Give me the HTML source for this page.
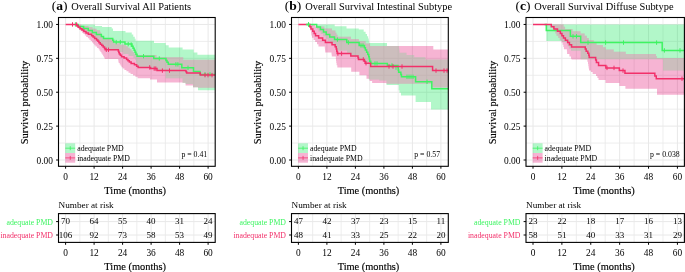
<!DOCTYPE html>
<html><head><meta charset="utf-8"><title>Overall Survival</title>
<style>html,body{margin:0;padding:0;background:#fff;} svg{display:block;} text{font-family:'Liberation Serif', 'Times New Roman', serif;}</style>
</head><body>
<svg width="685" height="272" viewBox="0 0 685 272">
<rect width="685" height="272" fill="#fff"/>
<clipPath id="clipa"><rect x="58.5" y="17.5" width="156.70" height="148.80"/></clipPath>
<line x1="65.60" y1="17.5" x2="65.60" y2="166.3" stroke="#e8e8e8" stroke-width="1"/><line x1="79.85" y1="17.5" x2="79.85" y2="166.3" stroke="#e8e8e8" stroke-width="0.8"/><line x1="94.10" y1="17.5" x2="94.10" y2="166.3" stroke="#e8e8e8" stroke-width="1"/><line x1="108.35" y1="17.5" x2="108.35" y2="166.3" stroke="#e8e8e8" stroke-width="0.8"/><line x1="122.60" y1="17.5" x2="122.60" y2="166.3" stroke="#e8e8e8" stroke-width="1"/><line x1="136.85" y1="17.5" x2="136.85" y2="166.3" stroke="#e8e8e8" stroke-width="0.8"/><line x1="151.10" y1="17.5" x2="151.10" y2="166.3" stroke="#e8e8e8" stroke-width="1"/><line x1="165.35" y1="17.5" x2="165.35" y2="166.3" stroke="#e8e8e8" stroke-width="0.8"/><line x1="179.60" y1="17.5" x2="179.60" y2="166.3" stroke="#e8e8e8" stroke-width="1"/><line x1="193.85" y1="17.5" x2="193.85" y2="166.3" stroke="#e8e8e8" stroke-width="0.8"/><line x1="208.10" y1="17.5" x2="208.10" y2="166.3" stroke="#e8e8e8" stroke-width="1"/><line x1="58.5" y1="160.00" x2="215.2" y2="160.00" stroke="#e8e8e8" stroke-width="1"/><line x1="58.5" y1="143.06" x2="215.2" y2="143.06" stroke="#e8e8e8" stroke-width="0.8"/><line x1="58.5" y1="126.11" x2="215.2" y2="126.11" stroke="#e8e8e8" stroke-width="1"/><line x1="58.5" y1="109.17" x2="215.2" y2="109.17" stroke="#e8e8e8" stroke-width="0.8"/><line x1="58.5" y1="92.22" x2="215.2" y2="92.22" stroke="#e8e8e8" stroke-width="1"/><line x1="58.5" y1="75.28" x2="215.2" y2="75.28" stroke="#e8e8e8" stroke-width="0.8"/><line x1="58.5" y1="58.34" x2="215.2" y2="58.34" stroke="#e8e8e8" stroke-width="1"/><line x1="58.5" y1="41.39" x2="215.2" y2="41.39" stroke="#e8e8e8" stroke-width="0.8"/><line x1="58.5" y1="24.45" x2="215.2" y2="24.45" stroke="#e8e8e8" stroke-width="1"/>
<g clip-path="url(#clipa)">
<path d="M76.40,24.45 L95.10,24.45 L95.10,26.00 L101.60,26.00 L102.05,26.00 L102.05,26.90 L102.50,26.90 L111.70,26.90 L111.70,28.50 L113.05,28.50 L113.05,31.00 L114.40,31.00 L125.50,31.00 L125.50,32.60 L131.00,32.60 L131.76,32.60 L131.76,34.62 L133.27,34.62 L133.27,36.65 L134.78,36.65 L134.78,38.68 L135.62,38.68 L135.62,40.70 L135.80,40.70 L154.00,40.70 L154.00,43.00 L165.70,43.00 L165.70,45.20 L168.70,45.20 L168.70,47.40 L182.60,47.40 L182.60,49.60 L193.70,49.60 L193.70,52.60 L197.40,52.60 L197.40,54.80 L215.20,54.80 L215.20,90.20 L198.00,90.20 L198.00,87.20 L193.00,87.20 L193.00,84.00 L185.60,84.00 L185.60,82.80 L182.60,82.80 L182.60,78.20 L165.70,78.20 L165.70,70.90 L157.00,70.90 L157.00,68.90 L150.60,68.90 L150.60,67.90 L139.60,67.90 L138.84,67.90 L138.84,65.92 L137.31,65.92 L137.31,63.94 L136.51,63.94 L136.51,61.97 L135.97,61.97 L135.97,59.99 L135.43,59.99 L135.43,58.01 L133.52,58.01 L133.52,56.03 L128.57,56.03 L128.57,54.06 L123.28,54.06 L123.28,52.08 L119.44,52.08 L119.44,50.10 L118.10,50.10 L105.90,50.10 L105.21,50.10 L105.21,48.27 L103.82,48.27 L103.82,46.44 L102.08,46.44 L102.08,44.60 L100.22,44.60 L100.22,42.77 L98.67,42.77 L98.67,40.94 L96.82,40.94 L96.82,39.11 L94.81,39.11 L94.81,37.27 L92.74,37.27 L92.74,35.44 L89.65,35.44 L89.65,33.61 L86.28,33.61 L86.28,31.78 L83.50,31.78 L83.50,29.95 L81.20,29.95 L81.20,28.11 L78.64,28.11 L78.64,26.28 L76.94,26.28 L76.94,24.45 L76.40,24.45 Z" fill="#00e64b" fill-opacity="0.3"/>
<clipPath id="gba"><path d="M76.40,24.45 L95.10,24.45 L95.10,26.00 L101.60,26.00 L102.05,26.00 L102.05,26.90 L102.50,26.90 L111.70,26.90 L111.70,28.50 L113.05,28.50 L113.05,31.00 L114.40,31.00 L125.50,31.00 L125.50,32.60 L131.00,32.60 L131.76,32.60 L131.76,34.62 L133.27,34.62 L133.27,36.65 L134.78,36.65 L134.78,38.68 L135.62,38.68 L135.62,40.70 L135.80,40.70 L154.00,40.70 L154.00,43.00 L165.70,43.00 L165.70,45.20 L168.70,45.20 L168.70,47.40 L182.60,47.40 L182.60,49.60 L193.70,49.60 L193.70,52.60 L197.40,52.60 L197.40,54.80 L215.20,54.80 L215.20,90.20 L198.00,90.20 L198.00,87.20 L193.00,87.20 L193.00,84.00 L185.60,84.00 L185.60,82.80 L182.60,82.80 L182.60,78.20 L165.70,78.20 L165.70,70.90 L157.00,70.90 L157.00,68.90 L150.60,68.90 L150.60,67.90 L139.60,67.90 L138.84,67.90 L138.84,65.92 L137.31,65.92 L137.31,63.94 L136.51,63.94 L136.51,61.97 L135.97,61.97 L135.97,59.99 L135.43,59.99 L135.43,58.01 L133.52,58.01 L133.52,56.03 L128.57,56.03 L128.57,54.06 L123.28,54.06 L123.28,52.08 L119.44,52.08 L119.44,50.10 L118.10,50.10 L105.90,50.10 L105.21,50.10 L105.21,48.27 L103.82,48.27 L103.82,46.44 L102.08,46.44 L102.08,44.60 L100.22,44.60 L100.22,42.77 L98.67,42.77 L98.67,40.94 L96.82,40.94 L96.82,39.11 L94.81,39.11 L94.81,37.27 L92.74,37.27 L92.74,35.44 L89.65,35.44 L89.65,33.61 L86.28,33.61 L86.28,31.78 L83.50,31.78 L83.50,29.95 L81.20,29.95 L81.20,28.11 L78.64,28.11 L78.64,26.28 L76.94,26.28 L76.94,24.45 L76.40,24.45 Z"/></clipPath>
<path d="M76.40,24.45 L81.21,24.45 L81.21,25.89 L88.46,25.89 L88.46,27.34 L92.57,27.34 L92.57,28.78 L96.49,28.78 L96.49,30.23 L99.97,30.23 L99.97,31.67 L100.59,31.67 L100.59,33.12 L101.22,33.12 L101.22,34.56 L102.00,34.56 L102.00,36.01 L102.91,36.01 L102.91,37.45 L104.08,37.45 L104.08,38.90 L104.80,38.90 L112.20,38.90 L112.55,38.90 L112.55,40.35 L113.26,40.35 L113.26,41.81 L113.97,41.81 L113.97,43.26 L119.96,43.26 L119.96,44.72 L125.93,44.72 L125.93,46.17 L128.07,46.17 L128.07,47.63 L129.75,47.63 L129.75,49.08 L131.21,49.08 L131.21,50.54 L132.66,50.54 L132.66,51.99 L133.97,51.99 L133.97,53.45 L135.90,53.45 L135.90,54.90 L150.00,54.90 L156.50,54.90 L156.50,57.30 L183.20,57.30 L183.20,59.70 L215.20,59.70 L215.20,87.70 L198.00,87.70 L198.00,87.20 L193.00,87.20 L193.00,85.60 L185.60,85.60 L185.60,82.80 L182.60,82.80 L182.60,82.40 L157.00,82.40 L157.00,79.60 L150.00,79.60 L150.00,78.20 L139.30,78.20 L137.59,78.20 L137.59,76.83 L135.35,76.83 L135.35,75.46 L132.99,75.46 L132.99,74.09 L130.55,74.09 L130.55,72.71 L128.49,72.71 L128.49,71.34 L126.44,71.34 L126.44,69.97 L124.43,69.97 L124.43,68.60 L122.68,68.60 L122.68,67.23 L121.45,67.23 L121.45,65.86 L120.64,65.86 L120.64,64.49 L119.71,64.49 L119.71,63.11 L118.70,63.11 L118.70,61.74 L118.41,61.74 L118.41,60.37 L118.20,60.37 L118.20,59.00 L118.10,59.00 L107.00,59.00 L104.69,59.00 L104.69,57.62 L103.91,57.62 L103.91,56.24 L103.13,56.24 L103.13,54.85 L102.31,54.85 L102.31,53.47 L101.39,53.47 L101.39,52.09 L100.47,52.09 L100.47,50.71 L99.54,50.71 L99.54,49.33 L98.62,49.33 L98.62,47.94 L97.10,47.94 L97.10,46.56 L95.48,46.56 L95.48,45.18 L94.35,45.18 L94.35,43.80 L93.22,43.80 L93.22,42.42 L92.08,42.42 L92.08,41.03 L90.74,41.03 L90.74,39.65 L89.36,39.65 L89.36,38.27 L87.93,38.27 L87.93,36.89 L86.24,36.89 L86.24,35.51 L84.81,35.51 L84.81,34.12 L83.43,34.12 L83.43,32.74 L82.05,32.74 L82.05,31.36 L80.67,31.36 L80.67,29.98 L79.29,29.98 L79.29,28.60 L77.91,28.60 L77.91,27.21 L77.15,27.21 L77.15,25.83 L76.65,25.83 L76.65,24.45 L76.40,24.45 Z" fill="#e1056c" fill-opacity="0.3"/>
<path d="M76.40,24.45 L81.21,24.45 L81.21,25.89 L88.46,25.89 L88.46,27.34 L92.57,27.34 L92.57,28.78 L96.49,28.78 L96.49,30.23 L99.97,30.23 L99.97,31.67 L100.59,31.67 L100.59,33.12 L101.22,33.12 L101.22,34.56 L102.00,34.56 L102.00,36.01 L102.91,36.01 L102.91,37.45 L104.08,37.45 L104.08,38.90 L104.80,38.90 L112.20,38.90 L112.55,38.90 L112.55,40.35 L113.26,40.35 L113.26,41.81 L113.97,41.81 L113.97,43.26 L119.96,43.26 L119.96,44.72 L125.93,44.72 L125.93,46.17 L128.07,46.17 L128.07,47.63 L129.75,47.63 L129.75,49.08 L131.21,49.08 L131.21,50.54 L132.66,50.54 L132.66,51.99 L133.97,51.99 L133.97,53.45 L135.90,53.45 L135.90,54.90 L150.00,54.90 L156.50,54.90 L156.50,57.30 L183.20,57.30 L183.20,59.70 L215.20,59.70 L215.20,87.70 L198.00,87.70 L198.00,87.20 L193.00,87.20 L193.00,85.60 L185.60,85.60 L185.60,82.80 L182.60,82.80 L182.60,82.40 L157.00,82.40 L157.00,79.60 L150.00,79.60 L150.00,78.20 L139.30,78.20 L137.59,78.20 L137.59,76.83 L135.35,76.83 L135.35,75.46 L132.99,75.46 L132.99,74.09 L130.55,74.09 L130.55,72.71 L128.49,72.71 L128.49,71.34 L126.44,71.34 L126.44,69.97 L124.43,69.97 L124.43,68.60 L122.68,68.60 L122.68,67.23 L121.45,67.23 L121.45,65.86 L120.64,65.86 L120.64,64.49 L119.71,64.49 L119.71,63.11 L118.70,63.11 L118.70,61.74 L118.41,61.74 L118.41,60.37 L118.20,60.37 L118.20,59.00 L118.10,59.00 L107.00,59.00 L104.69,59.00 L104.69,57.62 L103.91,57.62 L103.91,56.24 L103.13,56.24 L103.13,54.85 L102.31,54.85 L102.31,53.47 L101.39,53.47 L101.39,52.09 L100.47,52.09 L100.47,50.71 L99.54,50.71 L99.54,49.33 L98.62,49.33 L98.62,47.94 L97.10,47.94 L97.10,46.56 L95.48,46.56 L95.48,45.18 L94.35,45.18 L94.35,43.80 L93.22,43.80 L93.22,42.42 L92.08,42.42 L92.08,41.03 L90.74,41.03 L90.74,39.65 L89.36,39.65 L89.36,38.27 L87.93,38.27 L87.93,36.89 L86.24,36.89 L86.24,35.51 L84.81,35.51 L84.81,34.12 L83.43,34.12 L83.43,32.74 L82.05,32.74 L82.05,31.36 L80.67,31.36 L80.67,29.98 L79.29,29.98 L79.29,28.60 L77.91,28.60 L77.91,27.21 L77.15,27.21 L77.15,25.83 L76.65,25.83 L76.65,24.45 L76.40,24.45 Z" fill="#fff" fill-opacity="0.2" clip-path="url(#gba)"/>
<path d="M75.40,24.45 L77.00,24.45 L78.28,24.45 L78.28,26.44 L83.62,26.44 L83.62,28.44 L88.26,28.44 L88.26,30.43 L92.35,30.43 L92.35,32.42 L96.34,32.42 L96.34,34.41 L101.37,34.41 L101.37,36.41 L103.53,36.41 L103.53,38.40 L104.80,38.40 L112.20,38.40 L112.74,38.40 L112.74,40.25 L113.64,40.25 L113.64,42.10 L114.00,42.10 L120.00,42.10 L124.97,42.10 L124.97,44.11 L131.98,44.11 L131.98,46.13 L133.08,46.13 L133.08,48.14 L134.15,48.14 L134.15,50.16 L135.04,50.16 L135.04,52.17 L135.95,52.17 L135.95,54.19 L137.05,54.19 L137.05,56.20 L137.60,56.20 L153.20,56.20 L153.80,56.20 L153.80,58.50 L154.40,58.50 L165.40,58.50 L165.94,58.50 L165.94,60.43 L167.01,60.43 L167.01,62.37 L168.30,62.37 L168.30,64.30 L169.00,64.30 L181.80,64.30 L181.80,67.80 L193.50,67.80 L193.50,71.50 L200.00,71.50 L200.00,74.40 L215.20,74.40" fill="none" stroke="#3ef462" stroke-width="1.5"/>
<line x1="75.4" y1="22.25" x2="75.4" y2="26.65" stroke="#3ef462" stroke-width="1"/>
<line x1="116.2" y1="39.9" x2="116.2" y2="44.300000000000004" stroke="#3ef462" stroke-width="1"/>
<line x1="120.3" y1="39.9" x2="120.3" y2="44.300000000000004" stroke="#3ef462" stroke-width="1"/>
<line x1="128.2" y1="41.9" x2="128.2" y2="46.300000000000004" stroke="#3ef462" stroke-width="1"/>
<line x1="131.2" y1="42.4" x2="131.2" y2="46.800000000000004" stroke="#3ef462" stroke-width="1"/>
<line x1="143.5" y1="54.0" x2="143.5" y2="58.400000000000006" stroke="#3ef462" stroke-width="1"/>
<line x1="159.3" y1="56.3" x2="159.3" y2="60.7" stroke="#3ef462" stroke-width="1"/>
<line x1="175.9" y1="62.099999999999994" x2="175.9" y2="66.5" stroke="#3ef462" stroke-width="1"/>
<line x1="177.9" y1="62.099999999999994" x2="177.9" y2="66.5" stroke="#3ef462" stroke-width="1"/>
<line x1="188" y1="65.6" x2="188" y2="70.0" stroke="#3ef462" stroke-width="1"/>
<line x1="205" y1="72.2" x2="205" y2="76.60000000000001" stroke="#3ef462" stroke-width="1"/>
<line x1="210" y1="72.2" x2="210" y2="76.60000000000001" stroke="#3ef462" stroke-width="1"/>
<path d="M65.60,24.45 L76.90,24.45 L77.17,24.45 L77.17,25.86 L78.21,25.86 L78.21,27.27 L80.09,27.27 L80.09,28.67 L82.05,28.67 L82.05,30.08 L83.87,30.08 L83.87,31.49 L86.01,31.49 L86.01,32.90 L88.31,32.90 L88.31,34.31 L91.62,34.31 L91.62,35.72 L93.12,35.72 L93.12,37.12 L94.65,37.12 L94.65,38.53 L96.51,38.53 L96.51,39.94 L97.90,39.94 L97.90,41.35 L98.97,41.35 L98.97,42.76 L100.26,42.76 L100.26,44.17 L101.76,44.17 L101.76,45.57 L103.18,45.57 L103.18,46.98 L104.54,46.98 L104.54,48.39 L105.20,48.39 L105.20,49.80 L105.90,49.80 L118.10,49.80 L118.34,49.80 L118.34,51.17 L118.81,51.17 L118.81,52.54 L119.36,52.54 L119.36,53.91 L120.36,53.91 L120.36,55.28 L121.51,55.28 L121.51,56.65 L124.09,56.65 L124.09,58.02 L126.60,58.02 L126.60,59.38 L127.97,59.38 L127.97,60.75 L129.34,60.75 L129.34,62.12 L131.13,62.12 L131.13,63.49 L134.43,63.49 L134.43,64.86 L136.65,64.86 L136.65,66.23 L138.15,66.23 L138.15,67.60 L139.60,67.60 L150.60,67.60 L150.60,68.60 L157.00,68.60 L157.00,70.60 L185.60,70.60 L185.95,70.60 L185.95,71.75 L186.65,71.75 L186.65,72.90 L187.00,72.90 L200.30,72.90 L200.30,75.10 L215.20,75.10" fill="none" stroke="#f2306a" stroke-width="1.5"/>
<line x1="72.5" y1="22.25" x2="72.5" y2="26.65" stroke="#f2306a" stroke-width="1"/>
<line x1="76.6" y1="22.25" x2="76.6" y2="26.65" stroke="#f2306a" stroke-width="1"/>
<line x1="106.3" y1="47.599999999999994" x2="106.3" y2="52.0" stroke="#f2306a" stroke-width="1"/>
<line x1="108.5" y1="47.599999999999994" x2="108.5" y2="52.0" stroke="#f2306a" stroke-width="1"/>
<line x1="149.7" y1="65.2" x2="149.7" y2="69.60000000000001" stroke="#f2306a" stroke-width="1"/>
<line x1="154.2" y1="66.39999999999999" x2="154.2" y2="70.8" stroke="#f2306a" stroke-width="1"/>
<line x1="155.8" y1="66.39999999999999" x2="155.8" y2="70.8" stroke="#f2306a" stroke-width="1"/>
<line x1="162.4" y1="68.39999999999999" x2="162.4" y2="72.8" stroke="#f2306a" stroke-width="1"/>
<line x1="169.5" y1="68.39999999999999" x2="169.5" y2="72.8" stroke="#f2306a" stroke-width="1"/>
<line x1="205" y1="72.89999999999999" x2="205" y2="77.3" stroke="#f2306a" stroke-width="1"/>
<line x1="208" y1="72.89999999999999" x2="208" y2="77.3" stroke="#f2306a" stroke-width="1"/>
<line x1="212" y1="72.89999999999999" x2="212" y2="77.3" stroke="#f2306a" stroke-width="1"/>
</g>
<rect x="65.30" y="143.3" width="9.9" height="9.7" fill="#00e64b" fill-opacity="0.3"/>
<rect x="65.30" y="153.0" width="9.9" height="9.7" fill="#e1056c" fill-opacity="0.3"/>
<line x1="65.30" y1="148.2" x2="75.20" y2="148.2" stroke="#3ef462" stroke-width="0.8"/>
<line x1="70.25" y1="146.2" x2="70.25" y2="150.2" stroke="#3ef462" stroke-width="0.8"/>
<line x1="65.30" y1="157.9" x2="75.20" y2="157.9" stroke="#f2306a" stroke-width="0.8"/>
<line x1="70.25" y1="155.9" x2="70.25" y2="159.9" stroke="#f2306a" stroke-width="0.8"/>
<text x="77.20" y="151.0" font-size="7.8" fill="#000">adequate PMD</text>
<text x="77.20" y="160.7" font-size="7.8" fill="#000">inadequate PMD</text>
<text x="181.4" y="157.1" font-size="7.8" fill="#000">p = 0.41</text>
<rect x="58.5" y="17.5" width="156.70" height="148.80" fill="none" stroke="#000" stroke-width="1.1"/>
<line x1="65.60" y1="166.3" x2="65.60" y2="168.70000000000002" stroke="#000" stroke-width="1"/><text x="65.60" y="180.0" font-size="9.4" text-anchor="middle" fill="#000">0</text><line x1="94.10" y1="166.3" x2="94.10" y2="168.70000000000002" stroke="#000" stroke-width="1"/><text x="94.10" y="180.0" font-size="9.4" text-anchor="middle" fill="#000">12</text><line x1="122.60" y1="166.3" x2="122.60" y2="168.70000000000002" stroke="#000" stroke-width="1"/><text x="122.60" y="180.0" font-size="9.4" text-anchor="middle" fill="#000">24</text><line x1="151.10" y1="166.3" x2="151.10" y2="168.70000000000002" stroke="#000" stroke-width="1"/><text x="151.10" y="180.0" font-size="9.4" text-anchor="middle" fill="#000">36</text><line x1="179.60" y1="166.3" x2="179.60" y2="168.70000000000002" stroke="#000" stroke-width="1"/><text x="179.60" y="180.0" font-size="9.4" text-anchor="middle" fill="#000">48</text><line x1="208.10" y1="166.3" x2="208.10" y2="168.70000000000002" stroke="#000" stroke-width="1"/><text x="208.10" y="180.0" font-size="9.4" text-anchor="middle" fill="#000">60</text><line x1="56.1" y1="160.00" x2="58.5" y2="160.00" stroke="#000" stroke-width="1"/><text x="52.90" y="163.50" font-size="9.4" text-anchor="end" fill="#000">0.00</text><line x1="56.1" y1="126.11" x2="58.5" y2="126.11" stroke="#000" stroke-width="1"/><text x="52.90" y="129.61" font-size="9.4" text-anchor="end" fill="#000">0.25</text><line x1="56.1" y1="92.22" x2="58.5" y2="92.22" stroke="#000" stroke-width="1"/><text x="52.90" y="95.72" font-size="9.4" text-anchor="end" fill="#000">0.50</text><line x1="56.1" y1="58.34" x2="58.5" y2="58.34" stroke="#000" stroke-width="1"/><text x="52.90" y="61.84" font-size="9.4" text-anchor="end" fill="#000">0.75</text><line x1="56.1" y1="24.45" x2="58.5" y2="24.45" stroke="#000" stroke-width="1"/><text x="52.90" y="27.95" font-size="9.4" text-anchor="end" fill="#000">1.00</text>
<text x="135.2" y="193.5" font-size="10.4" text-anchor="middle" fill="#000" stroke="#000" stroke-width="0.15">Time (months)</text>
<text transform="translate(28.20,102.6) rotate(-90)" x="0" y="0" font-size="10.4" text-anchor="middle" fill="#000" stroke="#000" stroke-width="0.15">Survival probability</text>
<text x="51.80" y="9.6" font-size="13.5" fill="#000">(<tspan font-weight="bold">a</tspan>)</text>
<text x="71.30" y="9.7" font-size="10.4" fill="#000">Overall Survival All Patients</text>
<text x="58.60" y="207.5" font-size="9.2" fill="#000">Number at risk</text>
<line x1="65.60" y1="213.6" x2="65.60" y2="242.4" stroke="#e8e8e8" stroke-width="1"/><line x1="79.85" y1="213.6" x2="79.85" y2="242.4" stroke="#e8e8e8" stroke-width="0.8"/><line x1="94.10" y1="213.6" x2="94.10" y2="242.4" stroke="#e8e8e8" stroke-width="1"/><line x1="108.35" y1="213.6" x2="108.35" y2="242.4" stroke="#e8e8e8" stroke-width="0.8"/><line x1="122.60" y1="213.6" x2="122.60" y2="242.4" stroke="#e8e8e8" stroke-width="1"/><line x1="136.85" y1="213.6" x2="136.85" y2="242.4" stroke="#e8e8e8" stroke-width="0.8"/><line x1="151.10" y1="213.6" x2="151.10" y2="242.4" stroke="#e8e8e8" stroke-width="1"/><line x1="165.35" y1="213.6" x2="165.35" y2="242.4" stroke="#e8e8e8" stroke-width="0.8"/><line x1="179.60" y1="213.6" x2="179.60" y2="242.4" stroke="#e8e8e8" stroke-width="1"/><line x1="193.85" y1="213.6" x2="193.85" y2="242.4" stroke="#e8e8e8" stroke-width="0.8"/><line x1="208.10" y1="213.6" x2="208.10" y2="242.4" stroke="#e8e8e8" stroke-width="1"/><line x1="58.5" y1="221.6" x2="215.2" y2="221.6" stroke="#e8e8e8" stroke-width="1"/><line x1="58.5" y1="235.0" x2="215.2" y2="235.0" stroke="#e8e8e8" stroke-width="1"/>
<text x="65.60" y="224.40" font-size="9" text-anchor="middle" fill="#000">70</text>
<text x="94.10" y="224.40" font-size="9" text-anchor="middle" fill="#000">64</text>
<text x="122.60" y="224.40" font-size="9" text-anchor="middle" fill="#000">55</text>
<text x="151.10" y="224.40" font-size="9" text-anchor="middle" fill="#000">40</text>
<text x="179.60" y="224.40" font-size="9" text-anchor="middle" fill="#000">31</text>
<text x="208.10" y="224.40" font-size="9" text-anchor="middle" fill="#000">24</text>
<text x="65.60" y="237.80" font-size="9" text-anchor="middle" fill="#000">106</text>
<text x="94.10" y="237.80" font-size="9" text-anchor="middle" fill="#000">92</text>
<text x="122.60" y="237.80" font-size="9" text-anchor="middle" fill="#000">73</text>
<text x="151.10" y="237.80" font-size="9" text-anchor="middle" fill="#000">58</text>
<text x="179.60" y="237.80" font-size="9" text-anchor="middle" fill="#000">53</text>
<text x="208.10" y="237.80" font-size="9" text-anchor="middle" fill="#000">49</text>
<rect x="58.5" y="213.6" width="156.70" height="28.80" fill="none" stroke="#000" stroke-width="1.1"/>
<line x1="65.60" y1="242.4" x2="65.60" y2="244.8" stroke="#000" stroke-width="1"/><text x="65.60" y="256.2" font-size="9.4" text-anchor="middle" fill="#000">0</text><line x1="94.10" y1="242.4" x2="94.10" y2="244.8" stroke="#000" stroke-width="1"/><text x="94.10" y="256.2" font-size="9.4" text-anchor="middle" fill="#000">12</text><line x1="122.60" y1="242.4" x2="122.60" y2="244.8" stroke="#000" stroke-width="1"/><text x="122.60" y="256.2" font-size="9.4" text-anchor="middle" fill="#000">24</text><line x1="151.10" y1="242.4" x2="151.10" y2="244.8" stroke="#000" stroke-width="1"/><text x="151.10" y="256.2" font-size="9.4" text-anchor="middle" fill="#000">36</text><line x1="179.60" y1="242.4" x2="179.60" y2="244.8" stroke="#000" stroke-width="1"/><text x="179.60" y="256.2" font-size="9.4" text-anchor="middle" fill="#000">48</text><line x1="208.10" y1="242.4" x2="208.10" y2="244.8" stroke="#000" stroke-width="1"/><text x="208.10" y="256.2" font-size="9.4" text-anchor="middle" fill="#000">60</text><line x1="56.1" y1="221.6" x2="58.5" y2="221.6" stroke="#000" stroke-width="1"/><line x1="56.1" y1="235.0" x2="58.5" y2="235.0" stroke="#000" stroke-width="1"/>
<text x="53.00" y="225.0" font-size="7.8" text-anchor="end" fill="#3ef462">adequate PMD</text>
<text x="53.00" y="238.0" font-size="7.8" text-anchor="end" fill="#f2306a">inadequate PMD</text>
<text x="135.2" y="269.6" font-size="10.4" text-anchor="middle" fill="#000" stroke="#000" stroke-width="0.15">Time (months)</text>
<clipPath id="clipb"><rect x="291.5" y="17.5" width="156.80" height="148.80"/></clipPath>
<line x1="298.40" y1="17.5" x2="298.40" y2="166.3" stroke="#e8e8e8" stroke-width="1"/><line x1="312.65" y1="17.5" x2="312.65" y2="166.3" stroke="#e8e8e8" stroke-width="0.8"/><line x1="326.90" y1="17.5" x2="326.90" y2="166.3" stroke="#e8e8e8" stroke-width="1"/><line x1="341.15" y1="17.5" x2="341.15" y2="166.3" stroke="#e8e8e8" stroke-width="0.8"/><line x1="355.40" y1="17.5" x2="355.40" y2="166.3" stroke="#e8e8e8" stroke-width="1"/><line x1="369.65" y1="17.5" x2="369.65" y2="166.3" stroke="#e8e8e8" stroke-width="0.8"/><line x1="383.90" y1="17.5" x2="383.90" y2="166.3" stroke="#e8e8e8" stroke-width="1"/><line x1="398.15" y1="17.5" x2="398.15" y2="166.3" stroke="#e8e8e8" stroke-width="0.8"/><line x1="412.40" y1="17.5" x2="412.40" y2="166.3" stroke="#e8e8e8" stroke-width="1"/><line x1="426.65" y1="17.5" x2="426.65" y2="166.3" stroke="#e8e8e8" stroke-width="0.8"/><line x1="440.90" y1="17.5" x2="440.90" y2="166.3" stroke="#e8e8e8" stroke-width="1"/><line x1="291.5" y1="160.00" x2="448.3" y2="160.00" stroke="#e8e8e8" stroke-width="1"/><line x1="291.5" y1="143.06" x2="448.3" y2="143.06" stroke="#e8e8e8" stroke-width="0.8"/><line x1="291.5" y1="126.11" x2="448.3" y2="126.11" stroke="#e8e8e8" stroke-width="1"/><line x1="291.5" y1="109.17" x2="448.3" y2="109.17" stroke="#e8e8e8" stroke-width="0.8"/><line x1="291.5" y1="92.22" x2="448.3" y2="92.22" stroke="#e8e8e8" stroke-width="1"/><line x1="291.5" y1="75.28" x2="448.3" y2="75.28" stroke="#e8e8e8" stroke-width="0.8"/><line x1="291.5" y1="58.34" x2="448.3" y2="58.34" stroke="#e8e8e8" stroke-width="1"/><line x1="291.5" y1="41.39" x2="448.3" y2="41.39" stroke="#e8e8e8" stroke-width="0.8"/><line x1="291.5" y1="24.45" x2="448.3" y2="24.45" stroke="#e8e8e8" stroke-width="1"/>
<g clip-path="url(#clipb)">
<path d="M316.00,24.45 L316.80,24.45 L316.80,24.60 L334.70,24.60 L334.70,26.30 L346.50,26.30 L346.50,28.50 L358.80,28.50 L358.80,29.50 L363.68,29.50 L363.68,31.75 L365.60,31.75 L365.60,34.00 L367.01,34.00 L367.01,36.25 L368.16,36.25 L368.16,38.50 L368.79,38.50 L368.79,40.75 L369.23,40.75 L369.23,43.00 L371.50,43.00 L387.00,43.00 L387.00,46.00 L398.70,46.00 L398.86,46.00 L398.86,48.27 L399.17,48.27 L399.17,50.53 L399.48,50.53 L399.48,52.80 L406.48,52.80 L406.48,55.07 L414.18,55.07 L414.18,57.33 L425.39,57.33 L425.39,59.60 L431.00,59.60 L448.30,59.60 L448.30,109.40 L431.00,109.40 L431.00,102.00 L415.60,102.00 L415.60,95.40 L401.70,95.40 L400.95,95.40 L400.95,92.85 L399.45,92.85 L399.45,90.30 L398.70,90.30 L398.70,85.10 L386.50,85.10 L386.50,80.60 L379.25,80.60 L379.25,79.40 L372.00,79.40 L368.80,79.40 L368.80,63.20 L365.50,63.20 L365.12,63.20 L365.12,61.40 L364.38,61.40 L364.38,59.60 L364.00,59.60 L359.00,59.60 L358.50,59.60 L358.50,56.30 L358.00,56.30 L351.00,56.30 L351.00,54.00 L347.50,54.00 L347.15,54.00 L347.15,50.60 L346.80,50.60 L337.00,50.60 L336.67,50.60 L336.67,48.22 L335.78,48.22 L335.78,45.85 L334.40,45.85 L334.40,43.47 L330.21,43.47 L330.21,41.09 L328.03,41.09 L328.03,38.71 L325.70,38.71 L325.70,36.34 L323.15,36.34 L323.15,33.96 L320.77,33.96 L320.77,31.58 L318.46,31.58 L318.46,29.20 L317.13,29.20 L317.13,26.83 L316.38,26.83 L316.38,24.45 L316.00,24.45 Z" fill="#00e64b" fill-opacity="0.3"/>
<clipPath id="gbb"><path d="M316.00,24.45 L316.80,24.45 L316.80,24.60 L334.70,24.60 L334.70,26.30 L346.50,26.30 L346.50,28.50 L358.80,28.50 L358.80,29.50 L363.68,29.50 L363.68,31.75 L365.60,31.75 L365.60,34.00 L367.01,34.00 L367.01,36.25 L368.16,36.25 L368.16,38.50 L368.79,38.50 L368.79,40.75 L369.23,40.75 L369.23,43.00 L371.50,43.00 L387.00,43.00 L387.00,46.00 L398.70,46.00 L398.86,46.00 L398.86,48.27 L399.17,48.27 L399.17,50.53 L399.48,50.53 L399.48,52.80 L406.48,52.80 L406.48,55.07 L414.18,55.07 L414.18,57.33 L425.39,57.33 L425.39,59.60 L431.00,59.60 L448.30,59.60 L448.30,109.40 L431.00,109.40 L431.00,102.00 L415.60,102.00 L415.60,95.40 L401.70,95.40 L400.95,95.40 L400.95,92.85 L399.45,92.85 L399.45,90.30 L398.70,90.30 L398.70,85.10 L386.50,85.10 L386.50,80.60 L379.25,80.60 L379.25,79.40 L372.00,79.40 L368.80,79.40 L368.80,63.20 L365.50,63.20 L365.12,63.20 L365.12,61.40 L364.38,61.40 L364.38,59.60 L364.00,59.60 L359.00,59.60 L358.50,59.60 L358.50,56.30 L358.00,56.30 L351.00,56.30 L351.00,54.00 L347.50,54.00 L347.15,54.00 L347.15,50.60 L346.80,50.60 L337.00,50.60 L336.67,50.60 L336.67,48.22 L335.78,48.22 L335.78,45.85 L334.40,45.85 L334.40,43.47 L330.21,43.47 L330.21,41.09 L328.03,41.09 L328.03,38.71 L325.70,38.71 L325.70,36.34 L323.15,36.34 L323.15,33.96 L320.77,33.96 L320.77,31.58 L318.46,31.58 L318.46,29.20 L317.13,29.20 L317.13,26.83 L316.38,26.83 L316.38,24.45 L316.00,24.45 Z"/></clipPath>
<path d="M309.40,24.45 L315.22,24.45 L315.22,26.51 L324.31,26.51 L324.31,28.57 L332.00,28.57 L332.00,30.62 L335.38,30.62 L335.38,32.68 L336.44,32.68 L336.44,34.74 L337.59,34.74 L337.59,36.80 L338.20,36.80 L350.60,36.80 L350.93,36.80 L350.93,39.07 L358.88,39.07 L358.88,41.35 L365.58,41.35 L365.58,43.62 L370.00,43.62 L370.00,45.90 L371.50,45.90 L433.30,45.90 L433.30,49.60 L448.30,49.60 L448.30,87.40 L431.80,87.40 L431.80,83.70 L386.50,83.70 L386.50,83.00 L372.40,83.00 L372.14,83.00 L372.14,80.90 L369.59,80.90 L369.59,78.80 L366.50,78.80 L366.50,75.30 L359.40,75.30 L359.40,71.80 L351.20,71.80 L351.20,67.60 L338.30,67.60 L337.32,67.60 L337.32,65.36 L336.62,65.36 L336.62,63.12 L336.27,63.12 L336.27,60.88 L335.97,60.88 L335.97,58.64 L335.86,58.64 L335.86,56.40 L335.80,56.40 L331.90,56.40 L331.77,56.40 L331.77,54.45 L331.52,54.45 L331.52,52.50 L331.40,52.50 L325.30,52.50 L325.20,52.50 L325.20,50.50 L325.00,50.50 L325.00,48.50 L324.80,48.50 L324.80,46.50 L324.70,46.50 L319.20,46.50 L318.46,46.50 L318.46,44.30 L316.99,44.30 L316.99,42.09 L315.18,42.09 L315.18,39.88 L313.59,39.88 L313.59,37.68 L311.93,37.68 L311.93,35.48 L311.31,35.48 L311.31,33.27 L311.06,33.27 L311.06,31.06 L310.67,31.06 L310.67,28.86 L310.07,28.86 L310.07,26.66 L309.62,26.66 L309.62,24.45 L309.40,24.45 Z" fill="#e1056c" fill-opacity="0.3"/>
<path d="M309.40,24.45 L315.22,24.45 L315.22,26.51 L324.31,26.51 L324.31,28.57 L332.00,28.57 L332.00,30.62 L335.38,30.62 L335.38,32.68 L336.44,32.68 L336.44,34.74 L337.59,34.74 L337.59,36.80 L338.20,36.80 L350.60,36.80 L350.93,36.80 L350.93,39.07 L358.88,39.07 L358.88,41.35 L365.58,41.35 L365.58,43.62 L370.00,43.62 L370.00,45.90 L371.50,45.90 L433.30,45.90 L433.30,49.60 L448.30,49.60 L448.30,87.40 L431.80,87.40 L431.80,83.70 L386.50,83.70 L386.50,83.00 L372.40,83.00 L372.14,83.00 L372.14,80.90 L369.59,80.90 L369.59,78.80 L366.50,78.80 L366.50,75.30 L359.40,75.30 L359.40,71.80 L351.20,71.80 L351.20,67.60 L338.30,67.60 L337.32,67.60 L337.32,65.36 L336.62,65.36 L336.62,63.12 L336.27,63.12 L336.27,60.88 L335.97,60.88 L335.97,58.64 L335.86,58.64 L335.86,56.40 L335.80,56.40 L331.90,56.40 L331.77,56.40 L331.77,54.45 L331.52,54.45 L331.52,52.50 L331.40,52.50 L325.30,52.50 L325.20,52.50 L325.20,50.50 L325.00,50.50 L325.00,48.50 L324.80,48.50 L324.80,46.50 L324.70,46.50 L319.20,46.50 L318.46,46.50 L318.46,44.30 L316.99,44.30 L316.99,42.09 L315.18,42.09 L315.18,39.88 L313.59,39.88 L313.59,37.68 L311.93,37.68 L311.93,35.48 L311.31,35.48 L311.31,33.27 L311.06,33.27 L311.06,31.06 L310.67,31.06 L310.67,28.86 L310.07,28.86 L310.07,26.66 L309.62,26.66 L309.62,24.45 L309.40,24.45 Z" fill="#fff" fill-opacity="0.2" clip-path="url(#gbb)"/>
<path d="M307.60,24.45 L316.00,24.45 L316.65,24.45 L316.65,26.98 L320.44,26.98 L320.44,29.50 L323.50,29.50 L323.50,32.02 L326.19,32.02 L326.19,34.55 L329.73,34.55 L329.73,37.08 L334.51,37.08 L334.51,39.60 L335.10,39.60 L346.20,39.60 L346.76,39.60 L346.76,42.50 L347.60,42.50 L358.50,42.50 L359.15,42.50 L359.15,45.50 L361.70,45.50 L364.00,45.50 L364.47,45.50 L364.47,47.75 L365.40,47.75 L365.40,50.00 L366.63,50.00 L366.63,52.25 L367.79,52.25 L367.79,54.50 L368.76,54.50 L368.76,56.75 L369.31,56.75 L369.31,59.00 L369.74,59.00 L369.74,61.25 L370.78,61.25 L370.78,63.50 L371.50,63.50 L387.00,63.50 L387.35,63.50 L387.35,65.40 L387.70,65.40 L398.00,65.40 L398.00,67.60 L398.22,67.60 L398.22,69.90 L398.65,69.90 L398.65,72.20 L400.84,72.20 L400.84,74.50 L401.46,74.50 L401.46,76.80 L401.70,76.80 L415.60,76.80 L415.60,81.80 L431.80,81.80 L431.80,88.80 L448.30,88.80" fill="none" stroke="#3ef462" stroke-width="1.5"/>
<line x1="308.5" y1="22.25" x2="308.5" y2="26.65" stroke="#3ef462" stroke-width="1"/>
<line x1="337.4" y1="37.4" x2="337.4" y2="41.800000000000004" stroke="#3ef462" stroke-width="1"/>
<line x1="348.4" y1="40.3" x2="348.4" y2="44.7" stroke="#3ef462" stroke-width="1"/>
<line x1="361" y1="43.3" x2="361" y2="47.7" stroke="#3ef462" stroke-width="1"/>
<line x1="363" y1="43.3" x2="363" y2="47.7" stroke="#3ef462" stroke-width="1"/>
<line x1="375" y1="61.3" x2="375" y2="65.7" stroke="#3ef462" stroke-width="1"/>
<line x1="377" y1="61.3" x2="377" y2="65.7" stroke="#3ef462" stroke-width="1"/>
<line x1="392" y1="63.2" x2="392" y2="67.60000000000001" stroke="#3ef462" stroke-width="1"/>
<line x1="396" y1="65.39999999999999" x2="396" y2="69.8" stroke="#3ef462" stroke-width="1"/>
<line x1="407" y1="74.6" x2="407" y2="79.0" stroke="#3ef462" stroke-width="1"/>
<line x1="409" y1="74.6" x2="409" y2="79.0" stroke="#3ef462" stroke-width="1"/>
<line x1="411" y1="74.6" x2="411" y2="79.0" stroke="#3ef462" stroke-width="1"/>
<line x1="413" y1="74.6" x2="413" y2="79.0" stroke="#3ef462" stroke-width="1"/>
<line x1="427" y1="79.6" x2="427" y2="84.0" stroke="#3ef462" stroke-width="1"/>
<path d="M298.40,24.45 L309.30,24.45 L309.75,24.45 L309.75,26.69 L310.98,26.69 L310.98,28.93 L312.76,28.93 L312.76,31.18 L314.19,31.18 L314.19,33.42 L315.51,33.42 L315.51,35.66 L318.62,35.66 L318.62,37.90 L322.64,37.90 L322.64,40.15 L325.38,40.15 L325.38,42.39 L332.04,42.39 L332.04,44.63 L335.16,44.63 L335.16,46.87 L336.25,46.87 L336.25,49.12 L336.73,49.12 L336.73,51.36 L337.18,51.36 L337.18,53.60 L337.40,53.60 L350.40,53.60 L350.80,53.60 L350.80,55.90 L351.20,55.90 L357.80,55.90 L358.02,55.90 L358.02,57.65 L358.46,57.65 L358.46,59.40 L359.00,59.40 L364.00,59.40 L364.38,59.40 L364.38,61.30 L365.12,61.30 L365.12,63.20 L365.50,63.20 L369.90,63.20 L370.65,63.20 L370.65,66.50 L371.40,66.50 L432.60,66.50 L432.60,70.60 L448.30,70.60" fill="none" stroke="#f2306a" stroke-width="1.5"/>
<line x1="337.9" y1="51.4" x2="337.9" y2="55.800000000000004" stroke="#f2306a" stroke-width="1"/>
<line x1="341.6" y1="51.4" x2="341.6" y2="55.800000000000004" stroke="#f2306a" stroke-width="1"/>
<line x1="363.3" y1="57.199999999999996" x2="363.3" y2="61.6" stroke="#f2306a" stroke-width="1"/>
<line x1="366" y1="61.0" x2="366" y2="65.4" stroke="#f2306a" stroke-width="1"/>
<line x1="389" y1="64.3" x2="389" y2="68.7" stroke="#f2306a" stroke-width="1"/>
<line x1="393" y1="64.3" x2="393" y2="68.7" stroke="#f2306a" stroke-width="1"/>
<line x1="402" y1="64.3" x2="402" y2="68.7" stroke="#f2306a" stroke-width="1"/>
<line x1="436" y1="68.39999999999999" x2="436" y2="72.8" stroke="#f2306a" stroke-width="1"/>
<line x1="444" y1="68.39999999999999" x2="444" y2="72.8" stroke="#f2306a" stroke-width="1"/>
<line x1="447" y1="68.39999999999999" x2="447" y2="72.8" stroke="#f2306a" stroke-width="1"/>
<path d="M306.1,24.45 H310" fill="none" stroke="#3ef462" stroke-width="1.5"/>
<line x1="308.5" y1="22.25" x2="308.5" y2="26.65" stroke="#3ef462" stroke-width="1"/>
</g>
<rect x="298.10" y="143.3" width="9.9" height="9.7" fill="#00e64b" fill-opacity="0.3"/>
<rect x="298.10" y="153.0" width="9.9" height="9.7" fill="#e1056c" fill-opacity="0.3"/>
<line x1="298.10" y1="148.2" x2="308.00" y2="148.2" stroke="#3ef462" stroke-width="0.8"/>
<line x1="303.05" y1="146.2" x2="303.05" y2="150.2" stroke="#3ef462" stroke-width="0.8"/>
<line x1="298.10" y1="157.9" x2="308.00" y2="157.9" stroke="#f2306a" stroke-width="0.8"/>
<line x1="303.05" y1="155.9" x2="303.05" y2="159.9" stroke="#f2306a" stroke-width="0.8"/>
<text x="310.00" y="151.0" font-size="7.8" fill="#000">adequate PMD</text>
<text x="310.00" y="160.7" font-size="7.8" fill="#000">inadequate PMD</text>
<text x="414.2" y="157.1" font-size="7.8" fill="#000">p = 0.57</text>
<rect x="291.5" y="17.5" width="156.80" height="148.80" fill="none" stroke="#000" stroke-width="1.1"/>
<line x1="298.40" y1="166.3" x2="298.40" y2="168.70000000000002" stroke="#000" stroke-width="1"/><text x="298.40" y="180.0" font-size="9.4" text-anchor="middle" fill="#000">0</text><line x1="326.90" y1="166.3" x2="326.90" y2="168.70000000000002" stroke="#000" stroke-width="1"/><text x="326.90" y="180.0" font-size="9.4" text-anchor="middle" fill="#000">12</text><line x1="355.40" y1="166.3" x2="355.40" y2="168.70000000000002" stroke="#000" stroke-width="1"/><text x="355.40" y="180.0" font-size="9.4" text-anchor="middle" fill="#000">24</text><line x1="383.90" y1="166.3" x2="383.90" y2="168.70000000000002" stroke="#000" stroke-width="1"/><text x="383.90" y="180.0" font-size="9.4" text-anchor="middle" fill="#000">36</text><line x1="412.40" y1="166.3" x2="412.40" y2="168.70000000000002" stroke="#000" stroke-width="1"/><text x="412.40" y="180.0" font-size="9.4" text-anchor="middle" fill="#000">48</text><line x1="440.90" y1="166.3" x2="440.90" y2="168.70000000000002" stroke="#000" stroke-width="1"/><text x="440.90" y="180.0" font-size="9.4" text-anchor="middle" fill="#000">60</text><line x1="289.1" y1="160.00" x2="291.5" y2="160.00" stroke="#000" stroke-width="1"/><text x="285.90" y="163.50" font-size="9.4" text-anchor="end" fill="#000">0.00</text><line x1="289.1" y1="126.11" x2="291.5" y2="126.11" stroke="#000" stroke-width="1"/><text x="285.90" y="129.61" font-size="9.4" text-anchor="end" fill="#000">0.25</text><line x1="289.1" y1="92.22" x2="291.5" y2="92.22" stroke="#000" stroke-width="1"/><text x="285.90" y="95.72" font-size="9.4" text-anchor="end" fill="#000">0.50</text><line x1="289.1" y1="58.34" x2="291.5" y2="58.34" stroke="#000" stroke-width="1"/><text x="285.90" y="61.84" font-size="9.4" text-anchor="end" fill="#000">0.75</text><line x1="289.1" y1="24.45" x2="291.5" y2="24.45" stroke="#000" stroke-width="1"/><text x="285.90" y="27.95" font-size="9.4" text-anchor="end" fill="#000">1.00</text>
<text x="368.5" y="193.5" font-size="10.4" text-anchor="middle" fill="#000" stroke="#000" stroke-width="0.15">Time (months)</text>
<text transform="translate(261.20,102.6) rotate(-90)" x="0" y="0" font-size="10.4" text-anchor="middle" fill="#000" stroke="#000" stroke-width="0.15">Survival probability</text>
<text x="284.80" y="9.6" font-size="13.5" fill="#000">(<tspan font-weight="bold">b</tspan>)</text>
<text x="305.20" y="9.7" font-size="10.4" fill="#000">Overall Survival Intestinal Subtype</text>
<text x="291.60" y="207.5" font-size="9.2" fill="#000">Number at risk</text>
<line x1="298.40" y1="213.6" x2="298.40" y2="242.4" stroke="#e8e8e8" stroke-width="1"/><line x1="312.65" y1="213.6" x2="312.65" y2="242.4" stroke="#e8e8e8" stroke-width="0.8"/><line x1="326.90" y1="213.6" x2="326.90" y2="242.4" stroke="#e8e8e8" stroke-width="1"/><line x1="341.15" y1="213.6" x2="341.15" y2="242.4" stroke="#e8e8e8" stroke-width="0.8"/><line x1="355.40" y1="213.6" x2="355.40" y2="242.4" stroke="#e8e8e8" stroke-width="1"/><line x1="369.65" y1="213.6" x2="369.65" y2="242.4" stroke="#e8e8e8" stroke-width="0.8"/><line x1="383.90" y1="213.6" x2="383.90" y2="242.4" stroke="#e8e8e8" stroke-width="1"/><line x1="398.15" y1="213.6" x2="398.15" y2="242.4" stroke="#e8e8e8" stroke-width="0.8"/><line x1="412.40" y1="213.6" x2="412.40" y2="242.4" stroke="#e8e8e8" stroke-width="1"/><line x1="426.65" y1="213.6" x2="426.65" y2="242.4" stroke="#e8e8e8" stroke-width="0.8"/><line x1="440.90" y1="213.6" x2="440.90" y2="242.4" stroke="#e8e8e8" stroke-width="1"/><line x1="291.5" y1="221.6" x2="448.3" y2="221.6" stroke="#e8e8e8" stroke-width="1"/><line x1="291.5" y1="235.0" x2="448.3" y2="235.0" stroke="#e8e8e8" stroke-width="1"/>
<text x="298.40" y="224.40" font-size="9" text-anchor="middle" fill="#000">47</text>
<text x="326.90" y="224.40" font-size="9" text-anchor="middle" fill="#000">42</text>
<text x="355.40" y="224.40" font-size="9" text-anchor="middle" fill="#000">37</text>
<text x="383.90" y="224.40" font-size="9" text-anchor="middle" fill="#000">23</text>
<text x="412.40" y="224.40" font-size="9" text-anchor="middle" fill="#000">15</text>
<text x="440.90" y="224.40" font-size="9" text-anchor="middle" fill="#000">11</text>
<text x="298.40" y="237.80" font-size="9" text-anchor="middle" fill="#000">48</text>
<text x="326.90" y="237.80" font-size="9" text-anchor="middle" fill="#000">41</text>
<text x="355.40" y="237.80" font-size="9" text-anchor="middle" fill="#000">33</text>
<text x="383.90" y="237.80" font-size="9" text-anchor="middle" fill="#000">25</text>
<text x="412.40" y="237.80" font-size="9" text-anchor="middle" fill="#000">22</text>
<text x="440.90" y="237.80" font-size="9" text-anchor="middle" fill="#000">20</text>
<rect x="291.5" y="213.6" width="156.80" height="28.80" fill="none" stroke="#000" stroke-width="1.1"/>
<line x1="298.40" y1="242.4" x2="298.40" y2="244.8" stroke="#000" stroke-width="1"/><text x="298.40" y="256.2" font-size="9.4" text-anchor="middle" fill="#000">0</text><line x1="326.90" y1="242.4" x2="326.90" y2="244.8" stroke="#000" stroke-width="1"/><text x="326.90" y="256.2" font-size="9.4" text-anchor="middle" fill="#000">12</text><line x1="355.40" y1="242.4" x2="355.40" y2="244.8" stroke="#000" stroke-width="1"/><text x="355.40" y="256.2" font-size="9.4" text-anchor="middle" fill="#000">24</text><line x1="383.90" y1="242.4" x2="383.90" y2="244.8" stroke="#000" stroke-width="1"/><text x="383.90" y="256.2" font-size="9.4" text-anchor="middle" fill="#000">36</text><line x1="412.40" y1="242.4" x2="412.40" y2="244.8" stroke="#000" stroke-width="1"/><text x="412.40" y="256.2" font-size="9.4" text-anchor="middle" fill="#000">48</text><line x1="440.90" y1="242.4" x2="440.90" y2="244.8" stroke="#000" stroke-width="1"/><text x="440.90" y="256.2" font-size="9.4" text-anchor="middle" fill="#000">60</text><line x1="289.1" y1="221.6" x2="291.5" y2="221.6" stroke="#000" stroke-width="1"/><line x1="289.1" y1="235.0" x2="291.5" y2="235.0" stroke="#000" stroke-width="1"/>
<text x="286.00" y="225.0" font-size="7.8" text-anchor="end" fill="#3ef462">adequate PMD</text>
<text x="286.00" y="238.0" font-size="7.8" text-anchor="end" fill="#f2306a">inadequate PMD</text>
<text x="368.5" y="269.6" font-size="10.4" text-anchor="middle" fill="#000" stroke="#000" stroke-width="0.15">Time (months)</text>
<clipPath id="clipc"><rect x="526.0" y="17.5" width="158.40" height="148.80"/></clipPath>
<line x1="533.00" y1="17.5" x2="533.00" y2="166.3" stroke="#e8e8e8" stroke-width="1"/><line x1="547.44" y1="17.5" x2="547.44" y2="166.3" stroke="#e8e8e8" stroke-width="0.8"/><line x1="561.88" y1="17.5" x2="561.88" y2="166.3" stroke="#e8e8e8" stroke-width="1"/><line x1="576.33" y1="17.5" x2="576.33" y2="166.3" stroke="#e8e8e8" stroke-width="0.8"/><line x1="590.77" y1="17.5" x2="590.77" y2="166.3" stroke="#e8e8e8" stroke-width="1"/><line x1="605.21" y1="17.5" x2="605.21" y2="166.3" stroke="#e8e8e8" stroke-width="0.8"/><line x1="619.65" y1="17.5" x2="619.65" y2="166.3" stroke="#e8e8e8" stroke-width="1"/><line x1="634.09" y1="17.5" x2="634.09" y2="166.3" stroke="#e8e8e8" stroke-width="0.8"/><line x1="648.54" y1="17.5" x2="648.54" y2="166.3" stroke="#e8e8e8" stroke-width="1"/><line x1="662.98" y1="17.5" x2="662.98" y2="166.3" stroke="#e8e8e8" stroke-width="0.8"/><line x1="677.42" y1="17.5" x2="677.42" y2="166.3" stroke="#e8e8e8" stroke-width="1"/><line x1="526.0" y1="160.00" x2="684.4" y2="160.00" stroke="#e8e8e8" stroke-width="1"/><line x1="526.0" y1="143.06" x2="684.4" y2="143.06" stroke="#e8e8e8" stroke-width="0.8"/><line x1="526.0" y1="126.11" x2="684.4" y2="126.11" stroke="#e8e8e8" stroke-width="1"/><line x1="526.0" y1="109.17" x2="684.4" y2="109.17" stroke="#e8e8e8" stroke-width="0.8"/><line x1="526.0" y1="92.22" x2="684.4" y2="92.22" stroke="#e8e8e8" stroke-width="1"/><line x1="526.0" y1="75.28" x2="684.4" y2="75.28" stroke="#e8e8e8" stroke-width="0.8"/><line x1="526.0" y1="58.34" x2="684.4" y2="58.34" stroke="#e8e8e8" stroke-width="1"/><line x1="526.0" y1="41.39" x2="684.4" y2="41.39" stroke="#e8e8e8" stroke-width="0.8"/><line x1="526.0" y1="24.45" x2="684.4" y2="24.45" stroke="#e8e8e8" stroke-width="1"/>
<g clip-path="url(#clipc)">
<path d="M546.30,24.45 L684.40,24.45 L684.40,70.60 L663.00,70.60 L663.00,59.20 L580.70,59.20 L580.70,50.70 L571.90,50.70 L571.00,50.70 L571.00,48.53 L569.19,48.53 L569.19,46.35 L567.78,46.35 L567.78,44.17 L567.13,44.17 L567.13,42.00 L566.80,42.00 L563.00,42.00 L562.50,42.00 L562.50,41.10 L562.00,41.10 L546.30,41.10 Z" fill="#00e64b" fill-opacity="0.3"/>
<clipPath id="gbc"><path d="M546.30,24.45 L684.40,24.45 L684.40,70.60 L663.00,70.60 L663.00,59.20 L580.70,59.20 L580.70,50.70 L571.90,50.70 L571.00,50.70 L571.00,48.53 L569.19,48.53 L569.19,46.35 L567.78,46.35 L567.78,44.17 L567.13,44.17 L567.13,42.00 L566.80,42.00 L563.00,42.00 L562.50,42.00 L562.50,41.10 L562.00,41.10 L546.30,41.10 Z"/></clipPath>
<path d="M550.70,24.45 L562.90,24.45 L563.62,24.45 L563.62,26.72 L565.07,26.72 L565.07,29.00 L572.51,29.00 L572.51,31.27 L580.51,31.27 L580.51,33.54 L584.66,33.54 L584.66,35.82 L586.86,35.82 L586.86,38.09 L588.82,38.09 L588.82,40.36 L593.78,40.36 L593.78,42.63 L596.54,42.63 L596.54,44.91 L602.98,44.91 L602.98,47.18 L605.80,47.18 L605.80,49.45 L613.68,49.45 L613.68,51.73 L625.79,51.73 L625.79,54.00 L626.20,54.00 L655.60,54.00 L656.02,54.00 L656.02,56.05 L656.87,56.05 L656.87,58.10 L663.00,58.10 L684.40,58.10 L684.40,94.70 L657.00,94.70 L657.00,88.80 L625.40,88.80 L625.40,85.90 L619.40,85.90 L619.40,83.00 L605.60,83.00 L605.50,83.00 L605.50,80.10 L605.40,80.10 L599.00,80.10 L598.52,80.10 L598.52,78.07 L597.38,78.07 L597.38,76.05 L596.02,76.05 L596.02,74.03 L592.62,74.03 L592.62,72.00 L590.90,72.00 L590.90,70.60 L589.20,70.60 L589.03,70.60 L589.03,68.40 L588.68,68.40 L588.68,66.20 L588.32,66.20 L588.32,64.00 L587.98,64.00 L587.98,61.80 L587.40,61.80 L587.40,59.60 L587.00,59.60 L571.60,59.60 L571.60,58.80 L570.98,58.80 L570.98,56.40 L569.40,56.40 L569.40,54.00 L567.09,54.00 L567.09,51.60 L566.90,51.60 L566.90,49.20 L566.80,49.20 L564.20,49.20 L563.92,49.20 L563.92,46.95 L563.36,46.95 L563.36,44.70 L562.64,44.70 L562.64,42.45 L561.46,42.45 L561.46,40.20 L559.76,40.20 L559.76,37.95 L558.26,37.95 L558.26,35.70 L556.53,35.70 L556.53,33.45 L555.36,33.45 L555.36,31.20 L554.34,31.20 L554.34,28.95 L552.84,28.95 L552.84,26.70 L551.40,26.70 L551.40,24.45 L550.70,24.45 Z" fill="#e1056c" fill-opacity="0.3"/>
<path d="M550.70,24.45 L562.90,24.45 L563.62,24.45 L563.62,26.72 L565.07,26.72 L565.07,29.00 L572.51,29.00 L572.51,31.27 L580.51,31.27 L580.51,33.54 L584.66,33.54 L584.66,35.82 L586.86,35.82 L586.86,38.09 L588.82,38.09 L588.82,40.36 L593.78,40.36 L593.78,42.63 L596.54,42.63 L596.54,44.91 L602.98,44.91 L602.98,47.18 L605.80,47.18 L605.80,49.45 L613.68,49.45 L613.68,51.73 L625.79,51.73 L625.79,54.00 L626.20,54.00 L655.60,54.00 L656.02,54.00 L656.02,56.05 L656.87,56.05 L656.87,58.10 L663.00,58.10 L684.40,58.10 L684.40,94.70 L657.00,94.70 L657.00,88.80 L625.40,88.80 L625.40,85.90 L619.40,85.90 L619.40,83.00 L605.60,83.00 L605.50,83.00 L605.50,80.10 L605.40,80.10 L599.00,80.10 L598.52,80.10 L598.52,78.07 L597.38,78.07 L597.38,76.05 L596.02,76.05 L596.02,74.03 L592.62,74.03 L592.62,72.00 L590.90,72.00 L590.90,70.60 L589.20,70.60 L589.03,70.60 L589.03,68.40 L588.68,68.40 L588.68,66.20 L588.32,66.20 L588.32,64.00 L587.98,64.00 L587.98,61.80 L587.40,61.80 L587.40,59.60 L587.00,59.60 L571.60,59.60 L571.60,58.80 L570.98,58.80 L570.98,56.40 L569.40,56.40 L569.40,54.00 L567.09,54.00 L567.09,51.60 L566.90,51.60 L566.90,49.20 L566.80,49.20 L564.20,49.20 L563.92,49.20 L563.92,46.95 L563.36,46.95 L563.36,44.70 L562.64,44.70 L562.64,42.45 L561.46,42.45 L561.46,40.20 L559.76,40.20 L559.76,37.95 L558.26,37.95 L558.26,35.70 L556.53,35.70 L556.53,33.45 L555.36,33.45 L555.36,31.20 L554.34,31.20 L554.34,28.95 L552.84,28.95 L552.84,26.70 L551.40,26.70 L551.40,24.45 L550.70,24.45 Z" fill="#fff" fill-opacity="0.2" clip-path="url(#gbc)"/>
<path d="M544.50,24.45 L546.30,24.45 L546.30,30.50 L570.40,30.50 L570.40,36.30 L580.70,36.30 L580.70,42.60 L662.20,42.60 L662.20,50.40 L684.40,50.40" fill="none" stroke="#3ef462" stroke-width="1.5"/>
<line x1="573" y1="34.099999999999994" x2="573" y2="38.5" stroke="#3ef462" stroke-width="1"/>
<line x1="576.5" y1="34.099999999999994" x2="576.5" y2="38.5" stroke="#3ef462" stroke-width="1"/>
<line x1="588" y1="40.4" x2="588" y2="44.800000000000004" stroke="#3ef462" stroke-width="1"/>
<line x1="605.6" y1="40.4" x2="605.6" y2="44.800000000000004" stroke="#3ef462" stroke-width="1"/>
<line x1="623.5" y1="40.4" x2="623.5" y2="44.800000000000004" stroke="#3ef462" stroke-width="1"/>
<line x1="656.6" y1="40.4" x2="656.6" y2="44.800000000000004" stroke="#3ef462" stroke-width="1"/>
<line x1="664.4" y1="48.199999999999996" x2="664.4" y2="52.6" stroke="#3ef462" stroke-width="1"/>
<line x1="680" y1="48.199999999999996" x2="680" y2="52.6" stroke="#3ef462" stroke-width="1"/>
<path d="M533.00,24.45 L550.70,24.45 L551.28,24.45 L551.28,26.70 L553.91,26.70 L553.91,28.96 L557.48,28.96 L557.48,31.21 L560.34,31.21 L560.34,33.47 L561.92,33.47 L561.92,35.73 L563.48,35.73 L563.48,37.98 L565.39,37.98 L565.39,40.23 L567.63,40.23 L567.63,42.49 L569.44,42.49 L569.44,44.75 L571.58,44.75 L571.58,47.00 L571.90,47.00 L584.80,47.00 L585.26,47.00 L585.26,49.08 L586.18,49.08 L586.18,51.16 L587.80,51.16 L587.80,53.24 L588.81,53.24 L588.81,55.32 L589.20,55.32 L589.20,57.40 L589.40,57.40 L595.30,57.40 L595.67,57.40 L595.67,59.95 L596.42,59.95 L596.42,62.50 L596.80,62.50 L598.10,62.50 L598.55,62.50 L598.55,65.40 L599.00,65.40 L605.40,65.40 L605.85,65.40 L605.85,67.90 L606.30,67.90 L618.80,67.90 L619.33,67.90 L619.33,70.55 L624.94,70.55 L624.94,73.20 L625.40,73.20 L654.10,73.20 L654.83,73.20 L654.83,75.95 L656.27,75.95 L656.27,78.70 L657.00,78.70 L684.40,78.70" fill="none" stroke="#f2306a" stroke-width="1.5"/>
<line x1="607" y1="65.7" x2="607" y2="70.10000000000001" stroke="#f2306a" stroke-width="1"/>
<line x1="614" y1="65.7" x2="614" y2="70.10000000000001" stroke="#f2306a" stroke-width="1"/>
<line x1="623" y1="68.39999999999999" x2="623" y2="72.8" stroke="#f2306a" stroke-width="1"/>
<line x1="682" y1="76.5" x2="682" y2="80.9" stroke="#f2306a" stroke-width="1"/>
</g>
<rect x="532.70" y="143.3" width="9.9" height="9.7" fill="#00e64b" fill-opacity="0.3"/>
<rect x="532.70" y="153.0" width="9.9" height="9.7" fill="#e1056c" fill-opacity="0.3"/>
<line x1="532.70" y1="148.2" x2="542.60" y2="148.2" stroke="#3ef462" stroke-width="0.8"/>
<line x1="537.65" y1="146.2" x2="537.65" y2="150.2" stroke="#3ef462" stroke-width="0.8"/>
<line x1="532.70" y1="157.9" x2="542.60" y2="157.9" stroke="#f2306a" stroke-width="0.8"/>
<line x1="537.65" y1="155.9" x2="537.65" y2="159.9" stroke="#f2306a" stroke-width="0.8"/>
<text x="544.60" y="151.0" font-size="7.8" fill="#000">adequate PMD</text>
<text x="544.60" y="160.7" font-size="7.8" fill="#000">inadequate PMD</text>
<text x="650.0" y="157.1" font-size="7.8" fill="#000">p = 0.038</text>
<rect x="526.0" y="17.5" width="158.40" height="148.80" fill="none" stroke="#000" stroke-width="1.1"/>
<line x1="533.00" y1="166.3" x2="533.00" y2="168.70000000000002" stroke="#000" stroke-width="1"/><text x="533.00" y="180.0" font-size="9.4" text-anchor="middle" fill="#000">0</text><line x1="561.88" y1="166.3" x2="561.88" y2="168.70000000000002" stroke="#000" stroke-width="1"/><text x="561.88" y="180.0" font-size="9.4" text-anchor="middle" fill="#000">12</text><line x1="590.77" y1="166.3" x2="590.77" y2="168.70000000000002" stroke="#000" stroke-width="1"/><text x="590.77" y="180.0" font-size="9.4" text-anchor="middle" fill="#000">24</text><line x1="619.65" y1="166.3" x2="619.65" y2="168.70000000000002" stroke="#000" stroke-width="1"/><text x="619.65" y="180.0" font-size="9.4" text-anchor="middle" fill="#000">36</text><line x1="648.54" y1="166.3" x2="648.54" y2="168.70000000000002" stroke="#000" stroke-width="1"/><text x="648.54" y="180.0" font-size="9.4" text-anchor="middle" fill="#000">48</text><line x1="677.42" y1="166.3" x2="677.42" y2="168.70000000000002" stroke="#000" stroke-width="1"/><text x="677.42" y="180.0" font-size="9.4" text-anchor="middle" fill="#000">60</text><line x1="523.6" y1="160.00" x2="526.0" y2="160.00" stroke="#000" stroke-width="1"/><text x="520.40" y="163.50" font-size="9.4" text-anchor="end" fill="#000">0.00</text><line x1="523.6" y1="126.11" x2="526.0" y2="126.11" stroke="#000" stroke-width="1"/><text x="520.40" y="129.61" font-size="9.4" text-anchor="end" fill="#000">0.25</text><line x1="523.6" y1="92.22" x2="526.0" y2="92.22" stroke="#000" stroke-width="1"/><text x="520.40" y="95.72" font-size="9.4" text-anchor="end" fill="#000">0.50</text><line x1="523.6" y1="58.34" x2="526.0" y2="58.34" stroke="#000" stroke-width="1"/><text x="520.40" y="61.84" font-size="9.4" text-anchor="end" fill="#000">0.75</text><line x1="523.6" y1="24.45" x2="526.0" y2="24.45" stroke="#000" stroke-width="1"/><text x="520.40" y="27.95" font-size="9.4" text-anchor="end" fill="#000">1.00</text>
<text x="604.0" y="193.5" font-size="10.4" text-anchor="middle" fill="#000" stroke="#000" stroke-width="0.15">Time (months)</text>
<text transform="translate(495.70,102.6) rotate(-90)" x="0" y="0" font-size="10.4" text-anchor="middle" fill="#000" stroke="#000" stroke-width="0.15">Survival probability</text>
<text x="515.60" y="9.6" font-size="13.5" fill="#000">(<tspan font-weight="bold">c</tspan>)</text>
<text x="534.30" y="9.7" font-size="10.4" fill="#000">Overall Survival Diffuse Subtype</text>
<text x="526.10" y="207.5" font-size="9.2" fill="#000">Number at risk</text>
<line x1="533.00" y1="213.6" x2="533.00" y2="242.4" stroke="#e8e8e8" stroke-width="1"/><line x1="547.44" y1="213.6" x2="547.44" y2="242.4" stroke="#e8e8e8" stroke-width="0.8"/><line x1="561.88" y1="213.6" x2="561.88" y2="242.4" stroke="#e8e8e8" stroke-width="1"/><line x1="576.33" y1="213.6" x2="576.33" y2="242.4" stroke="#e8e8e8" stroke-width="0.8"/><line x1="590.77" y1="213.6" x2="590.77" y2="242.4" stroke="#e8e8e8" stroke-width="1"/><line x1="605.21" y1="213.6" x2="605.21" y2="242.4" stroke="#e8e8e8" stroke-width="0.8"/><line x1="619.65" y1="213.6" x2="619.65" y2="242.4" stroke="#e8e8e8" stroke-width="1"/><line x1="634.09" y1="213.6" x2="634.09" y2="242.4" stroke="#e8e8e8" stroke-width="0.8"/><line x1="648.54" y1="213.6" x2="648.54" y2="242.4" stroke="#e8e8e8" stroke-width="1"/><line x1="662.98" y1="213.6" x2="662.98" y2="242.4" stroke="#e8e8e8" stroke-width="0.8"/><line x1="677.42" y1="213.6" x2="677.42" y2="242.4" stroke="#e8e8e8" stroke-width="1"/><line x1="526.0" y1="221.6" x2="684.4" y2="221.6" stroke="#e8e8e8" stroke-width="1"/><line x1="526.0" y1="235.0" x2="684.4" y2="235.0" stroke="#e8e8e8" stroke-width="1"/>
<text x="533.00" y="224.40" font-size="9" text-anchor="middle" fill="#000">23</text>
<text x="561.88" y="224.40" font-size="9" text-anchor="middle" fill="#000">22</text>
<text x="590.77" y="224.40" font-size="9" text-anchor="middle" fill="#000">18</text>
<text x="619.65" y="224.40" font-size="9" text-anchor="middle" fill="#000">17</text>
<text x="648.54" y="224.40" font-size="9" text-anchor="middle" fill="#000">16</text>
<text x="677.42" y="224.40" font-size="9" text-anchor="middle" fill="#000">13</text>
<text x="533.00" y="237.80" font-size="9" text-anchor="middle" fill="#000">58</text>
<text x="561.88" y="237.80" font-size="9" text-anchor="middle" fill="#000">51</text>
<text x="590.77" y="237.80" font-size="9" text-anchor="middle" fill="#000">40</text>
<text x="619.65" y="237.80" font-size="9" text-anchor="middle" fill="#000">33</text>
<text x="648.54" y="237.80" font-size="9" text-anchor="middle" fill="#000">31</text>
<text x="677.42" y="237.80" font-size="9" text-anchor="middle" fill="#000">29</text>
<rect x="526.0" y="213.6" width="158.40" height="28.80" fill="none" stroke="#000" stroke-width="1.1"/>
<line x1="533.00" y1="242.4" x2="533.00" y2="244.8" stroke="#000" stroke-width="1"/><text x="533.00" y="256.2" font-size="9.4" text-anchor="middle" fill="#000">0</text><line x1="561.88" y1="242.4" x2="561.88" y2="244.8" stroke="#000" stroke-width="1"/><text x="561.88" y="256.2" font-size="9.4" text-anchor="middle" fill="#000">12</text><line x1="590.77" y1="242.4" x2="590.77" y2="244.8" stroke="#000" stroke-width="1"/><text x="590.77" y="256.2" font-size="9.4" text-anchor="middle" fill="#000">24</text><line x1="619.65" y1="242.4" x2="619.65" y2="244.8" stroke="#000" stroke-width="1"/><text x="619.65" y="256.2" font-size="9.4" text-anchor="middle" fill="#000">36</text><line x1="648.54" y1="242.4" x2="648.54" y2="244.8" stroke="#000" stroke-width="1"/><text x="648.54" y="256.2" font-size="9.4" text-anchor="middle" fill="#000">48</text><line x1="677.42" y1="242.4" x2="677.42" y2="244.8" stroke="#000" stroke-width="1"/><text x="677.42" y="256.2" font-size="9.4" text-anchor="middle" fill="#000">60</text><line x1="523.6" y1="221.6" x2="526.0" y2="221.6" stroke="#000" stroke-width="1"/><line x1="523.6" y1="235.0" x2="526.0" y2="235.0" stroke="#000" stroke-width="1"/>
<text x="520.50" y="225.0" font-size="7.8" text-anchor="end" fill="#3ef462">adequate PMD</text>
<text x="520.50" y="238.0" font-size="7.8" text-anchor="end" fill="#f2306a">inadequate PMD</text>
<text x="604.0" y="269.6" font-size="10.4" text-anchor="middle" fill="#000" stroke="#000" stroke-width="0.15">Time (months)</text>
</svg>
</body></html>
